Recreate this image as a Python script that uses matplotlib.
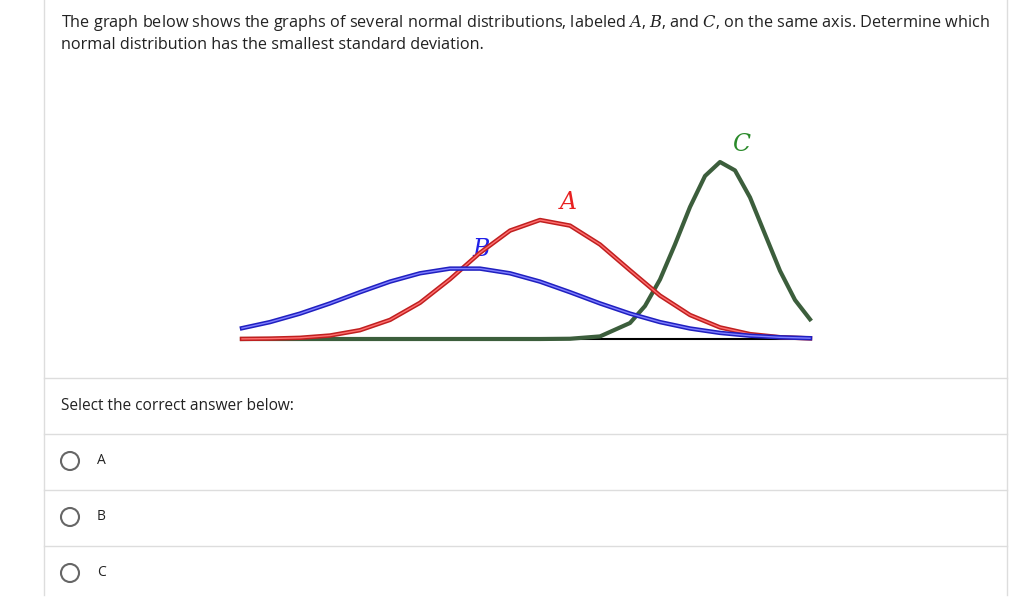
import numpy as np
import matplotlib.pyplot as plt
from matplotlib.patches import Circle

plt.rcParams['font.family'] = 'Open Sans'
plt.rcParams['mathtext.fontset'] = 'dejavuserif'

# curve heights (x in px along the axis, height in px above the baseline)
xB = [242, 270, 300, 330, 360, 390, 420, 450, 480, 510, 540, 570, 600, 630, 660, 690, 720, 750, 780, 810]
yB = [10.8, 16.9, 25.4, 35.6, 46.8, 57.4, 65.7, 70.4, 70.4, 65.7, 57.4, 46.8, 35.6, 25.4, 16.9, 10.5, 6.1, 3.3, 1.7, 0.8]

xA = [242, 270, 300, 330, 360, 390, 420, 450, 480, 510, 540, 570, 600, 630, 660, 690, 720, 750, 780, 810]
yA = [0.1, 0.4, 1.2, 3.5, 8.8, 19.1, 36.2, 59.8, 86.2, 108.4, 119, 113.4, 94.5, 68.7, 43.4, 24, 11.6, 4.9, 1.8, 0.6]

xC = [242, 540, 570, 600, 630, 645, 660, 675, 690, 705, 720, 735, 750, 765, 780, 795, 810]
yC = [0, 0, 0.25, 2.6, 16, 33, 59.5, 94.6, 132, 163, 177, 168.6, 141.6, 104.8, 68.2, 39, 19.7]

labels = ['A', 'B', 'C']
label_pos = [(568, 203), (481, 250), (742, 145)]
label_colors = ['#e82020', '#2020e8', '#2a8a2a']
options = ['A', 'B', 'C']

fig = plt.figure(figsize=(10.24, 6.02), dpi=100)

# page overlay in pixel coords
pg = fig.add_axes([0, 0, 1, 1])
pg.set_xlim(0, 1024)
pg.set_ylim(602, 0)
pg.axis('off')
pg.plot([44, 44], [0, 595], color='#dddddd', lw=1)
pg.plot([1007, 1007], [0, 595], color='#dddddd', lw=1)
for yy in [378, 434, 490, 546]:
    pg.plot([44, 1007], [yy, yy], color='#dddddd', lw=1)

pg.text(61, 23, 'The graph below shows the graphs of several normal distributions, labeled $A$, $B$, and $C$, on the same axis. Determine which',
        fontsize=11.7, va='center', color='#222222')
pg.text(61, 45, 'normal distribution has the smallest standard deviation.', fontsize=11.7, va='center', color='#222222')
pg.text(61, 406, 'Select the correct answer below:', fontsize=11.2, va='center', color='#222222')
for i, o in enumerate(options):
    yy = 461 + 56 * i
    pg.add_patch(Circle((70, yy), 9, fill=False, ec='#666666', lw=1.5))
    pg.text(97, yy, o, fontsize=10, va='center', color='#222222')

for lab, (lx, ly), c in zip(labels, label_pos, label_colors):
    pg.text(lx, ly, '$' + lab + '$', fontsize=17, color=c, ha='center', va='center')

# chart axes: x 242..810 px, baseline at y=339, 200 px tall
ax = fig.add_axes([242 / 1024, (602 - 339) / 602, (810 - 242) / 1024, 200 / 602])
ax.set_xlim(242, 810)
ax.set_ylim(0, 200)
ax.axis('off')
ax.plot([242, 810], [0, 0], color='black', lw=1.5, clip_on=False)
ax.plot(xC, yC, color='#3c5e3c', lw=3, clip_on=False)
ax.plot(xA, yA, color='#c02020', lw=3.2, clip_on=False)
ax.plot(xA, yA, color='#ff7070', lw=1, clip_on=False)
ax.plot(xB, yB, color='#2020c0', lw=3.2, clip_on=False)
ax.plot(xB, yB, color='#8080ff', lw=1, clip_on=False)

fig.savefig('out.png', dpi=100)
